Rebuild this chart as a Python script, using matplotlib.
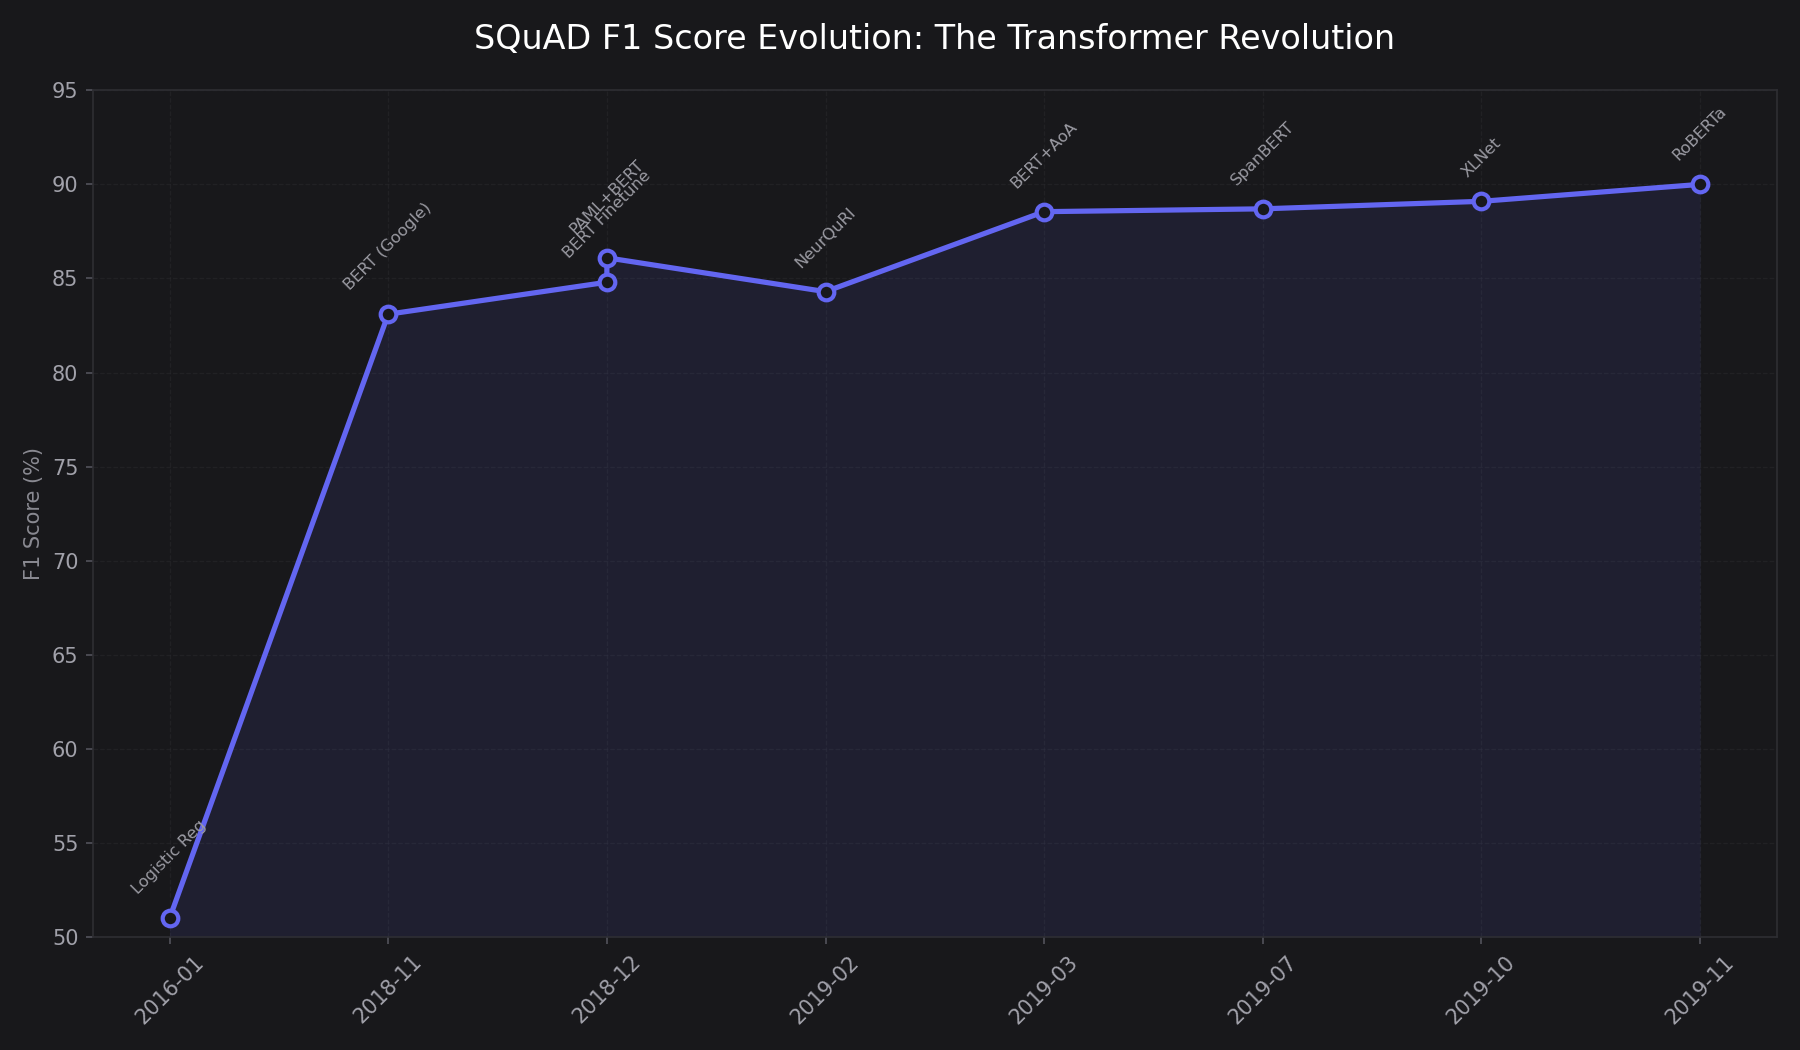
import matplotlib
matplotlib.use("Agg")
import matplotlib.pyplot as plt

dates = ["2016-01", "2018-11", "2018-12", "2018-12", "2019-02", "2019-03", "2019-07", "2019-10", "2019-11"]
models = ["Logistic Reg", "BERT (Google)", "BERT Finetune", "PAML+BERT", "NeurQuRI", "BERT+AoA", "SpanBERT", "XLNet", "RoBERTa"]
f1 = [51.0, 83.1, 84.8, 86.1, 84.3, 88.55, 88.7, 89.1, 90.0]

tick_labels = []
for d in dates:
    if d not in tick_labels:
        tick_labels.append(d)
xpos = [tick_labels.index(d) for d in dates]

BG = "#18181b"
LINE = "#6366f1"
TXT = "#a1a1aa"

fig, ax = plt.subplots(figsize=(12, 7), dpi=150)
fig.patch.set_facecolor(BG)
ax.set_facecolor(BG)
fig.subplots_adjust(left=0.0517, right=0.987, bottom=0.1076, top=0.914)

ax.fill_between(xpos, f1, 50, color=LINE, alpha=0.1, linewidth=0)
ax.plot(xpos, f1, color=LINE, linewidth=2.5, marker="o", markersize=7.5,
        markerfacecolor=BG, markeredgecolor=LINE, markeredgewidth=2, zorder=3)

for x, y, m in zip(xpos, f1, models):
    ax.annotate(m, (x, y), xytext=(0, 10), textcoords="offset points",
                ha="center", va="bottom", rotation=45, fontsize=7.8, color="#9a9aa2")

ax.set_ylim(50, 95)
ax.set_xticks(range(len(tick_labels)))
ax.set_xticklabels(tick_labels, rotation=45)
ax.tick_params(colors=TXT, labelsize=10)
for t in ax.get_xticklabels() + ax.get_yticklabels():
    t.set_color(TXT)
ax.tick_params(axis="both", color="#52525b")
for s in ax.spines.values():
    s.set_color("#2e2e33")
ax.grid(True, color="#2a2a2e", linestyle="--", linewidth=0.6, alpha=0.5)
ax.set_axisbelow(True)

ax.set_ylabel("F1 Score (%)", color="#8a8a92", fontsize=10)
ax.set_title("SQuAD F1 Score Evolution: The Transformer Revolution", color="white",
             fontsize=16, pad=20)

fig.savefig("out.png", facecolor=BG)
